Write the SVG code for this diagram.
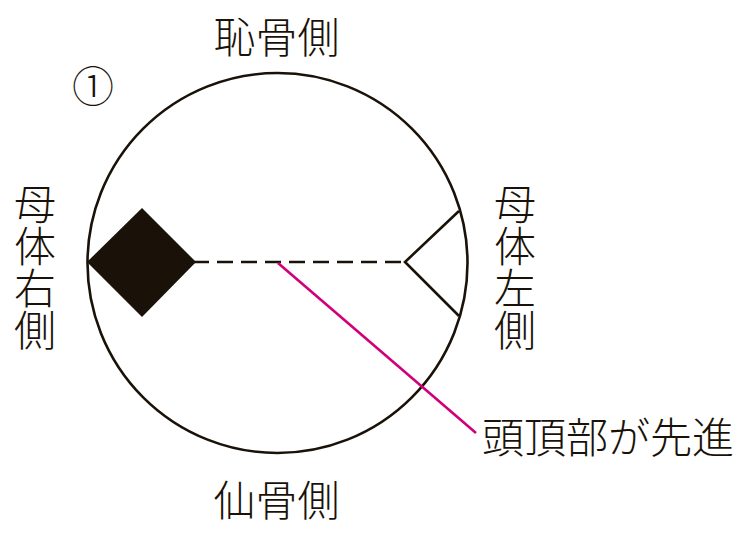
<svg xmlns="http://www.w3.org/2000/svg" width="753" height="533" viewBox="0 0 753 533">
<style>
.lbl{font-family:"Noto Sans CJK JP","Noto Sans CJK SC",sans-serif;font-size:42px;font-weight:300;fill:#1a1208;text-anchor:middle;dominant-baseline:central}
.ln{stroke:#1a1208;stroke-width:2.6;fill:none}
</style>
<rect width="753" height="533" fill="#fff"/>
<g id="outline">
<circle class="ln" cx="277.5" cy="263" r="190" stroke-width="3"/>
</g>
<g id="head-diamond">
<polygon points="87,262 142,208 196,262 142,317" fill="#1a1208"/>
</g>
<g id="head-triangle">
<polyline class="ln" points="459,211 405,262 459,316"/>
</g>
<g id="connectors">
<line class="ln" x1="193" y1="262" x2="405" y2="262" stroke-dasharray="16 8"/>
<line x1="278" y1="263" x2="476" y2="433" stroke="#d0007a" stroke-width="2.6"/>
</g>
<g id="label-top"><text class="lbl" x="276.5" y="34">恥骨側</text></g>
<g id="label-num"><text class="lbl" x="93" y="83">①</text></g>
<g id="label-bottom"><text class="lbl" x="276.5" y="497">仙骨側</text></g>
<g id="label-left">
<text class="lbl" x="35" y="201">母</text>
<text class="lbl" x="35" y="243">体</text>
<text class="lbl" x="35" y="285">右</text>
<text class="lbl" x="35" y="327">側</text>
</g>
<g id="label-right">
<text class="lbl" x="515" y="201">母</text>
<text class="lbl" x="515" y="243">体</text>
<text class="lbl" x="515" y="285">左</text>
<text class="lbl" x="515" y="327">側</text>
</g>
<g id="label-note"><text class="lbl" x="608" y="434">頭頂部が先進</text></g>
</svg>
